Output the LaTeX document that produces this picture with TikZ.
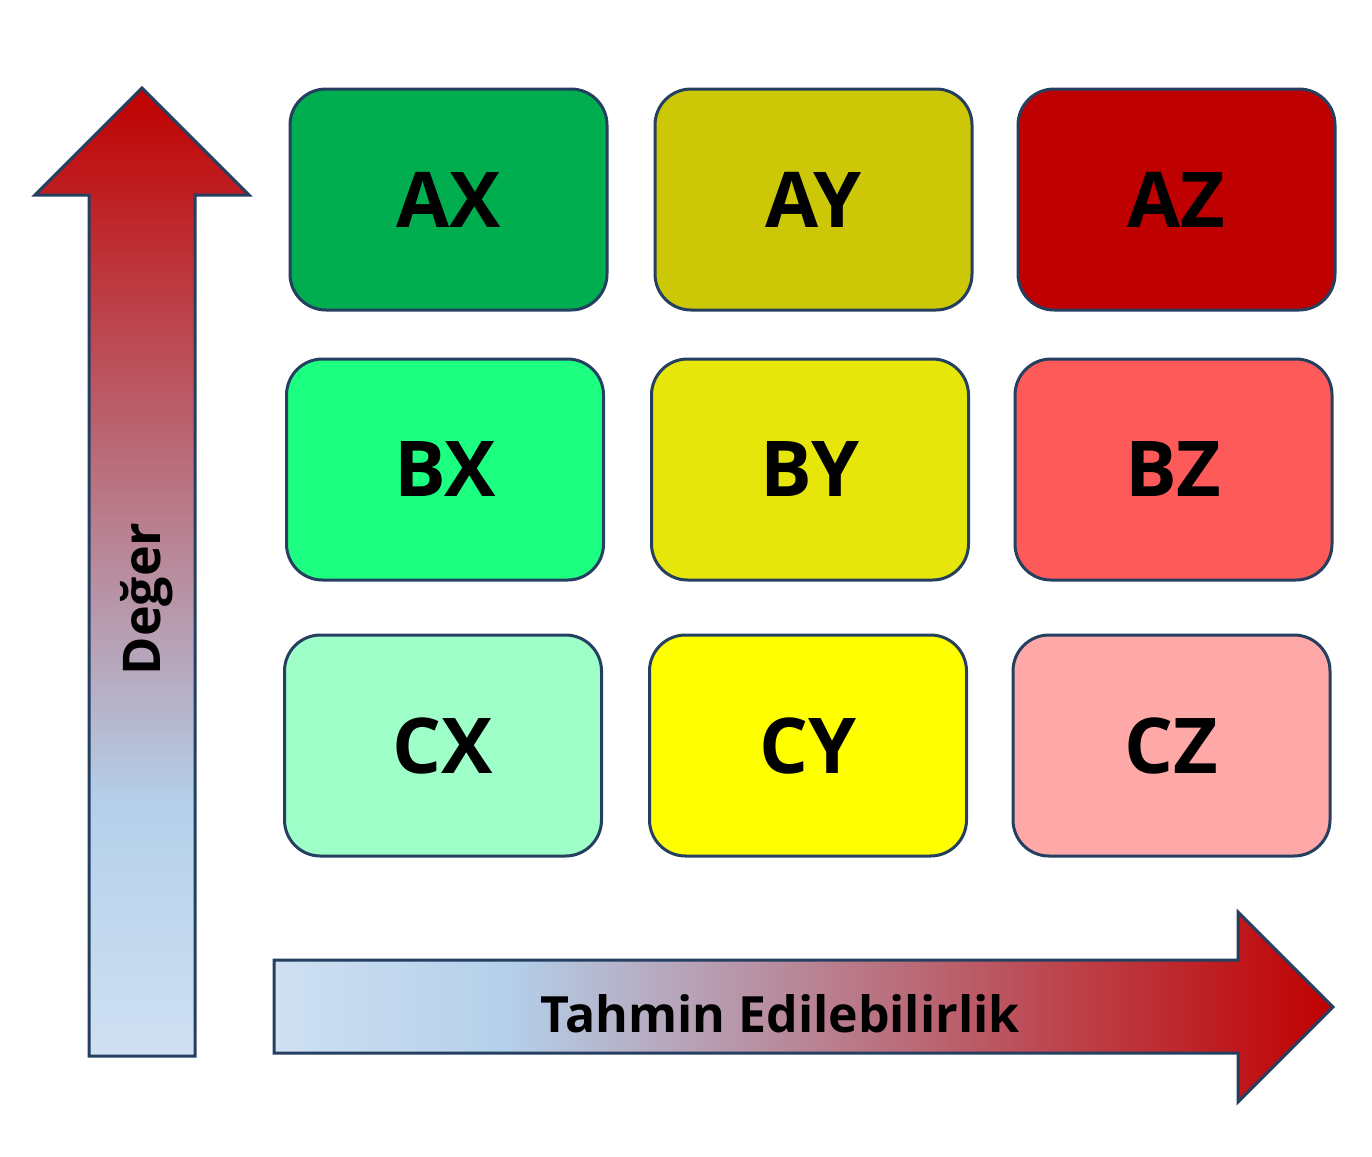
\documentclass[tikz,border=0pt]{standalone}
\usepackage{fontspec}
\setmainfont{Open Sans}
\usetikzlibrary{positioning}
\definecolor{edge}{HTML}{243F60}
\definecolor{cAX}{HTML}{00AE50}
\definecolor{cAY}{HTML}{CCC808}
\definecolor{cAZ}{HTML}{BE0000}
\definecolor{cBX}{HTML}{1CFF80}
\definecolor{cBY}{HTML}{E6E60A}
\definecolor{cBZ}{HTML}{FF5A5A}
\definecolor{cCX}{HTML}{9EFFC8}
\definecolor{cCY}{HTML}{FFFF00}
\definecolor{cCZ}{HTML}{FFA8A8}
\definecolor{gLight}{HTML}{D0E0F2}
\definecolor{gBlue}{HTML}{B4D0EA}
\definecolor{gRed}{HTML}{C00000}
\pgfdeclareverticalshading{vgrad}{100bp}{color(0bp)=(gLight); color(25bp)=(gLight); color(38bp)=(gBlue); color(75bp)=(gRed); color(100bp)=(gRed)}
\pgfdeclarehorizontalshading{hgrad}{100bp}{color(0bp)=(gLight); color(25bp)=(gLight); color(36bp)=(gBlue); color(75bp)=(gRed); color(100bp)=(gRed)}
\tikzset{
  cell/.style={draw=edge, line width=3pt, rounded corners=36pt, minimum width=317pt, minimum height=221pt, inner sep=0pt, font=\fontsize{77pt}{80pt}\selectfont\bfseries, text=black},
  arrowshape/.style={draw=edge, line width=3pt, line join=miter},
  axislabel/.style={font=\fontsize{52pt}{56pt}\selectfont\bfseries, text=black, inner sep=0pt}
}
\begin{document}
\begin{tikzpicture}[x=1pt,y=-1pt]
\useasboundingbox (0,0) rectangle (1372,1156);
% arrows
\draw[arrowshape, shading=vgrad] (89,1056) -- (195,1056) -- (195,195) -- (249,195) -- (142,88) -- (35,195) -- (89,195) -- cycle;
\draw[arrowshape, shading=hgrad] (274,960) -- (1238,960) -- (1238,912) -- (1333,1007) -- (1238,1102) -- (1238,1053) -- (274,1053) -- cycle;
\node[axislabel, rotate=90] (deger) at (147,599) {Değer};
\node[axislabel, font=\fontsize{50pt}{54pt}\selectfont\bfseries] (tahmin) at (780,1014) {Tahmin Edilebilirlik};
% cells
\node[cell, fill=cAX] (ax) at (448.5,199.5) {AX};
\node[cell, fill=cAY] (ay) at (813.5,199.5) {AY};
\node[cell, fill=cAZ] (az) at (1176.5,199.5) {AZ};
\node[cell, fill=cBX] (bx) at (445,469.5) {BX};
\node[cell, fill=cBY] (by) at (810,469.5) {BY};
\node[cell, fill=cBZ] (bz) at (1173.5,469.5) {BZ};
\node[cell, fill=cCX] (cx) at (443,745.5) {CX};
\node[cell, fill=cCY] (cy) at (808,745.5) {CY};
\node[cell, fill=cCZ] (cz) at (1171.5,745.5) {CZ};
\end{tikzpicture}
\end{document}
